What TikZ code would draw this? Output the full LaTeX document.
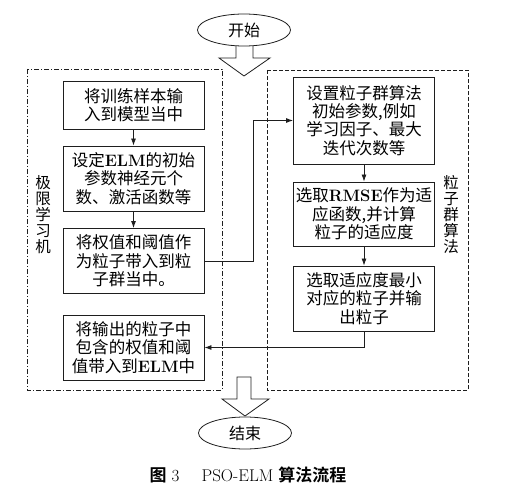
\documentclass[tikz,border=0pt]{standalone}
\usepackage{fontspec}
\newfontfamily\cjk{Noto Sans CJK SC}[BoldFont={Noto Sans CJK SC Bold}]
\usetikzlibrary{arrows.meta,shapes.geometric}
\definecolor{ink}{HTML}{1E1E1E}
\tikzset{
  stepbox/.style={draw=ink,line width=0.9pt,minimum width=141pt,inner sep=0pt,
    align=center,font=\cjk\fontsize{16.5}{18.3}\selectfont},
  terminal/.style={ellipse,draw=ink,line width=0.8pt,minimum width=93pt,
    minimum height=32pt,inner sep=0pt,font=\cjk\fontsize{16}{18}\selectfont},
  flow/.style={draw=ink,line width=0.8pt,-{Latex[length=7pt,width=5pt]}},
  sidelabel/.style={align=center,inner sep=0pt,font=\cjk\fontsize{15.5}{16}\selectfont},
}
\begin{document}
\begin{tikzpicture}[x=1pt,y=-1pt]
        \useasboundingbox (0,0) rectangle (506,492);
        % start / end
        \node[terminal] (start) at (244,30) {开始};
        \node[terminal] (stop) at (245,433) {结束};
        \draw[ink,line width=0.8pt] (236,46) -- (236,58) -- (219,58) -- (244,76) -- (270,58) -- (253,58) -- (253,46);
        \draw[ink,line width=0.8pt] (237,377) -- (237,399) -- (222,399) -- (245,416) -- (269,399) -- (251,399) -- (251,377) -- cycle;
        % group frames
        \draw[ink,line width=0.7pt,dash pattern=on 5pt off 2pt on 1pt off 2pt] (27,69) rectangle (222,390);
        \draw[ink,line width=0.7pt,dash pattern=on 4pt off 2pt] (267,70) rectangle (468,390);
        \node[sidelabel] (elm) at (43,215) {极\\限\\学\\习\\机};
        \node[sidelabel] (pso) at (451,215) {粒\\子\\群\\算\\法};
        % ELM side
        \node[stepbox,minimum height=48pt] (b1) at (133.5,105) {将训练样本输\\入到模型当中};
        \node[stepbox,minimum height=65pt] (b2) at (133.5,178.5) {设定{\normalfont\bfseries ELM}的初始\\参数神经元个\\数、激活函数等};
        \node[stepbox,minimum height=65pt] (b3) at (133.5,261) {将权值和阈值作\\为粒子带入到粒\\子群当中。};
        \node[stepbox,minimum height=65pt] (b4) at (133.5,347.5) {将输出的粒子中\\包含的权值和阈\\值带入到{\normalfont\bfseries ELM}中};
        % PSO side
        \node[stepbox,minimum height=87pt] (r1) at (364,120.5) {设置粒子群算法\\初始参数,例如\\学习因子、最大\\迭代次数等};
        \node[stepbox,minimum height=64pt] (r2) at (364,214) {选取{\normalfont\bfseries RMSE}作为适\\应函数,并计算\\粒子的适应度};
        \node[stepbox,minimum height=65pt] (r3) at (364,298.5) {选取适应度最小\\对应的粒子并输\\出粒子};
        % connectors
        \draw[flow] (b1) -- (b2);
        \draw[flow] (b2) -- (b3);
        \draw[flow] (r1) -- (r2);
        \draw[flow] (r2) -- (r3);
        \draw[flow] (b3.east) -- ++(49,0) |- (r1.west);
        \draw[flow] (r3.south) |- (b4.east);
        % caption
        \node[font=\fontsize{17}{20}\selectfont] (cap) at (248,475) {{\cjk\bfseries 图}~3\hspace{1.3em}PSO-ELM {\cjk\bfseries 算法流程}};
\end{tikzpicture}
\end{document}
